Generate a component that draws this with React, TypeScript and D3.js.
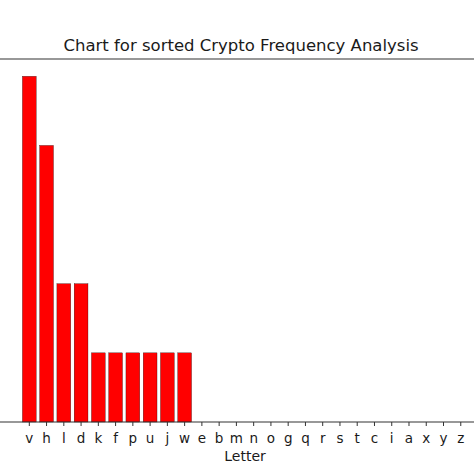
import * as d3 from "d3";

const letters = ["v", "h", "l", "d", "k", "f", "p", "u", "j", "w", "e", "b", "m", "n", "o", "g", "q", "r", "s", "t", "c", "i", "a", "x", "y", "z"];
const counts = [5, 4, 2, 2, 1, 1, 1, 1, 1, 1, 0, 0, 0, 0, 0, 0, 0, 0, 0, 0, 0, 0, 0, 0, 0, 0];
const yDomain = [0, 5.25];

const W = 474;
const H = 474;
const plotTop = 59;
const plotBottom = 422;

export default function App() {
  const x = d3.scaleBand<string>()
    .domain(letters)
    .range([20.67, 469.4])
    .paddingInner(0.2)
    .paddingOuter(0.1);
  const y = d3.scaleLinear().domain(yDomain).range([plotBottom, plotTop]);
  const font = "'DejaVu Sans', sans-serif";

  return (
    <svg width={W} height={H} style={{ position: "absolute", left: 0, top: 0, background: "#fff" }} fontFamily={font}>
      {/* bars */}
      {letters.map((l, i) => counts[i] > 0 && (
        <rect key={l}
          x={x(l)} y={y(counts[i])}
          width={x.bandwidth()} height={y(0) - y(counts[i])}
          fill="#ff0000" stroke="#000" strokeWidth={0.3} />
      ))}
      {/* spines */}
      <line x1={0} x2={W} y1={plotTop} y2={plotTop} stroke="#333" strokeWidth={1.2} />
      <line x1={0} x2={W} y1={plotBottom} y2={plotBottom} stroke="#333" strokeWidth={1.2} />
      {/* x ticks */}
      {letters.map(l => {
        const cx = x(l)! + x.bandwidth() / 2;
        return (
          <g key={"t" + l} transform={`translate(${cx},${plotBottom})`}>
            <line y1={0} y2={4} stroke="#333" strokeWidth={1} />
            <text y={21} textAnchor="middle" fontSize={13.5} fill="#1a1a1a">{l}</text>
          </g>
        );
      })}
      <text x={245} y={461} textAnchor="middle" fontSize={14} fill="#1a1a1a">Letter</text>
      <text x={241} y={51} textAnchor="middle" fontSize={16.5} fill="#1a1a1a">Chart for sorted Crypto Frequency Analysis</text>
    </svg>
  );
}
